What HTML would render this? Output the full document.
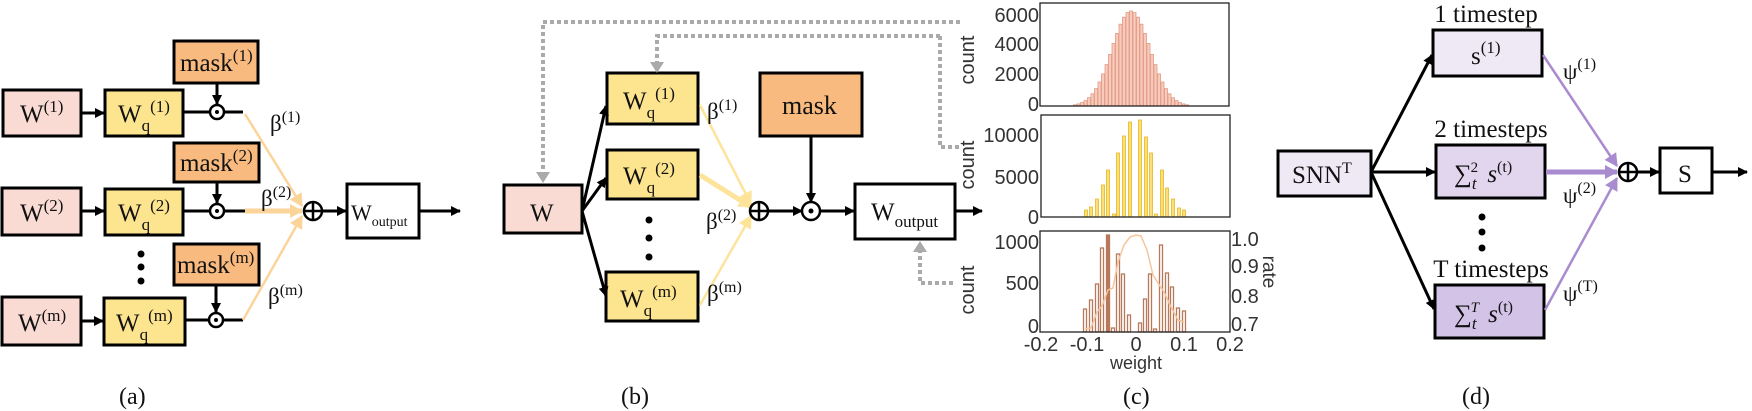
<!DOCTYPE html>
<html><head><meta charset="utf-8"><style>
body{margin:0;background:#fff}
svg{display:block}
.s{font-family:"Liberation Serif",serif;fill:#111}
.a{font-family:"Liberation Sans",sans-serif;fill:#333}
</style></head><body>
<svg width="1752" height="411" viewBox="0 0 1752 411" xmlns="http://www.w3.org/2000/svg">
<defs>
<marker id="k" markerWidth="10" markerHeight="10" refX="9" refY="5" orient="auto" markerUnits="userSpaceOnUse"><path d="M0,0 L10,5 L0,10 z" fill="#000"/></marker>
<marker id="o" markerWidth="14" markerHeight="14" refX="12" refY="7" orient="auto" markerUnits="userSpaceOnUse"><path d="M0,0 L13,7 L0,14 z" fill="#fbd49a"/></marker>
<marker id="y" markerWidth="14" markerHeight="14" refX="12" refY="7" orient="auto" markerUnits="userSpaceOnUse"><path d="M0,0 L13,7 L0,14 z" fill="#fde49a"/></marker>
<marker id="p" markerWidth="14" markerHeight="14" refX="12" refY="7" orient="auto" markerUnits="userSpaceOnUse"><path d="M0,0 L13,7 L0,14 z" fill="#a98bd0"/></marker>
</defs>
<g stroke="#000" stroke-width="3">
<rect x="3" y="90" width="78" height="46" fill="#f9dbd3"/>
<rect x="105" y="90" width="78" height="46" fill="#fde58f"/>
<rect x="174" y="41" width="84" height="42" fill="#f8ba7e"/>
<rect x="2" y="188" width="79" height="47" fill="#f9dbd3"/>
<rect x="105" y="189" width="78" height="46" fill="#fde58f"/>
<rect x="174" y="143" width="85" height="39" fill="#f8ba7e"/>
<rect x="2" y="297" width="79" height="48" fill="#f9dbd3"/>
<rect x="104" y="298" width="81" height="47" fill="#fde58f"/>
<rect x="174" y="244" width="85" height="41" fill="#f8ba7e"/>
<rect x="347" y="184" width="72" height="54" fill="#fff"/>
</g>
<g stroke="#000" stroke-width="3" fill="none">
<line x1="81" y1="113" x2="104" y2="113" marker-end="url(#k)"/>
<line x1="81" y1="211" x2="104" y2="211" marker-end="url(#k)"/>
<line x1="81" y1="321" x2="103" y2="321" marker-end="url(#k)"/>
<line x1="183" y1="112" x2="243" y2="112"/>
<line x1="183" y1="211" x2="245" y2="211"/>
<line x1="185" y1="320" x2="243" y2="320"/>
<line x1="217" y1="83" x2="217" y2="104" marker-end="url(#k)"/>
<line x1="217" y1="182" x2="217" y2="203" marker-end="url(#k)"/>
<line x1="216" y1="285" x2="216" y2="312" marker-end="url(#k)"/>
<line x1="322" y1="211" x2="346" y2="211" marker-end="url(#k)"/>
<line x1="419" y1="211" x2="460" y2="211" marker-end="url(#k)"/>
</g>
<g stroke="#000" stroke-width="2.5" fill="#fff">
<circle cx="217" cy="112" r="7"/><circle cx="217" cy="211" r="7"/><circle cx="216" cy="320" r="7"/>
</g>
<g fill="#000"><circle cx="217" cy="112" r="2"/><circle cx="217" cy="211" r="2"/><circle cx="216" cy="320" r="2"/>
<circle cx="141" cy="254" r="3.5"/><circle cx="141" cy="267" r="3.5"/><circle cx="141" cy="281" r="3.5"/></g>
<g stroke="#fbd49a" fill="none">
<line x1="245" y1="114" x2="302" y2="206" stroke-width="2.5" marker-end="url(#o)"/>
<line x1="245" y1="211" x2="302" y2="211" stroke-width="5" marker-end="url(#o)"/>
<line x1="243" y1="320" x2="302" y2="216" stroke-width="2.5" marker-end="url(#o)"/>
</g>
<g stroke="#000" stroke-width="2.5" fill="#fff"><circle cx="313" cy="211" r="9"/></g>
<path d="M304,211 H322 M313,202 V220" stroke="#000" stroke-width="2.5"/>
<g class="s" font-size="25">
<text x="20" y="122">W<tspan font-size="17" dy="-10">(1)</tspan></text>
<text x="118" y="122">W<tspan font-size="17" dy="9">q</tspan><tspan font-size="17" dy="-19">(1)</tspan></text>
<text x="180" y="71">mask<tspan font-size="17" dy="-10">(1)</tspan></text>
<text x="20" y="221">W<tspan font-size="17" dy="-10">(2)</tspan></text>
<text x="118" y="221">W<tspan font-size="17" dy="9">q</tspan><tspan font-size="17" dy="-19">(2)</tspan></text>
<text x="180" y="171">mask<tspan font-size="17" dy="-10">(2)</tspan></text>
<text x="18" y="331">W<tspan font-size="17" dy="-10">(m)</tspan></text>
<text x="116" y="331">W<tspan font-size="17" dy="9">q</tspan><tspan font-size="17" dy="-19">(m)</tspan></text>
<text x="177" y="273">mask<tspan font-size="17" dy="-10">(m)</tspan></text>
<text x="270" y="131" font-size="23">β<tspan font-size="16" dy="-9">(1)</tspan></text>
<text x="261" y="206" font-size="23">β<tspan font-size="16" dy="-9">(2)</tspan></text>
<text x="268" y="304" font-size="23">β<tspan font-size="16" dy="-9">(m)</tspan></text>
<text x="351" y="220" font-size="22">W<tspan font-size="14" dy="6">output</tspan></text>
<text x="119" y="404" font-size="24">(a)</text>
</g>
<g stroke="#000" stroke-width="3">
<rect x="504" y="185" width="78" height="48" fill="#f9dbd3"/>
<rect x="607" y="73" width="91" height="51" fill="#fde58f"/>
<rect x="607" y="150" width="91" height="49" fill="#fde58f"/>
<rect x="606" y="272" width="92" height="49" fill="#fde58f"/>
<rect x="760" y="73" width="102" height="63" fill="#f8ba7e"/>
<rect x="855" y="184" width="100" height="55" fill="#fff"/>
</g>
<g stroke="#000" stroke-width="3" fill="none">
<line x1="582" y1="211" x2="606" y2="106" marker-end="url(#k)"/>
<line x1="582" y1="211" x2="606" y2="178" marker-end="url(#k)"/>
<line x1="582" y1="211" x2="606" y2="296" marker-end="url(#k)"/>
<line x1="768" y1="211" x2="802" y2="211" marker-end="url(#k)"/>
<line x1="811" y1="136" x2="811" y2="202" marker-end="url(#k)"/>
<line x1="819" y1="211" x2="854" y2="211" marker-end="url(#k)"/>
<line x1="955" y1="211" x2="982" y2="211" marker-end="url(#k)"/>
</g>
<g stroke="#fde49a" fill="none">
<line x1="700" y1="105" x2="751" y2="204" stroke-width="2.5" marker-end="url(#y)"/>
<line x1="700" y1="175" x2="751" y2="207" stroke-width="5" marker-end="url(#y)"/>
<line x1="700" y1="305" x2="751" y2="216" stroke-width="2.5" marker-end="url(#y)"/>
</g>
<g stroke="#000" stroke-width="2.5" fill="#fff"><circle cx="759" cy="211" r="9"/><circle cx="811" cy="211" r="9"/></g>
<path d="M750,211 H768 M759,202 V220" stroke="#000" stroke-width="2.5"/>
<circle cx="811" cy="211" r="2.5" fill="#000"/>
<g fill="#000"><circle cx="649" cy="220" r="3.5"/><circle cx="649" cy="238" r="3.5"/><circle cx="649" cy="257" r="3.5"/></g>
<g stroke="#aaa" stroke-width="4" stroke-dasharray="4,3" fill="none">
<path d="M960,22 H543 V172"/>
<path d="M940,36 H657 V62"/>
<path d="M940,36 V147 H960"/>
<path d="M953,283 H920 V252"/>
</g>
<g fill="#aaa"><path d="M536,172 L550,172 L543,183 z"/><path d="M650,62 L664,62 L657,73 z"/><path d="M913,252 L927,252 L920,241 z"/></g>
<g class="s" font-size="25">
<text x="530" y="221">W</text>
<text x="623" y="109">W<tspan font-size="17" dy="9">q</tspan><tspan font-size="17" dy="-19">(1)</tspan></text>
<text x="623" y="184">W<tspan font-size="17" dy="9">q</tspan><tspan font-size="17" dy="-19">(2)</tspan></text>
<text x="620" y="307">W<tspan font-size="17" dy="9">q</tspan><tspan font-size="17" dy="-19">(m)</tspan></text>
<text x="782" y="114" font-size="26">mask</text>
<text x="871" y="220">W<tspan font-size="17" dy="7">output</tspan></text>
<text x="707" y="119" font-size="23">β<tspan font-size="16" dy="-9">(1)</tspan></text>
<text x="706" y="229" font-size="23">β<tspan font-size="16" dy="-9">(2)</tspan></text>
<text x="707" y="301" font-size="23">β<tspan font-size="16" dy="-9">(m)</tspan></text>
<text x="621" y="404" font-size="24">(b)</text>
</g>
<g fill="#f9cbbd" stroke="#e29a85" stroke-width="0.8">
<rect x="1129.5" y="11" width="3" height="95"/>
<rect x="1126" y="12.6" width="3" height="93.4"/><rect x="1133" y="12.6" width="3" height="93.4"/>
<rect x="1122.5" y="17.2" width="3" height="88.8"/><rect x="1136.5" y="17.2" width="3" height="88.8"/>
<rect x="1119" y="24.2" width="3" height="81.8"/><rect x="1140" y="24.2" width="3" height="81.8"/>
<rect x="1115.5" y="33.4" width="3" height="72.6"/><rect x="1143.5" y="33.4" width="3" height="72.6"/>
<rect x="1112" y="43.5" width="3" height="62.5"/><rect x="1147" y="43.5" width="3" height="62.5"/>
<rect x="1108.5" y="54.4" width="3" height="51.6"/><rect x="1150.5" y="54.4" width="3" height="51.6"/>
<rect x="1105" y="64.6" width="3" height="41.4"/><rect x="1154" y="64.6" width="3" height="41.4"/>
<rect x="1101.5" y="73.9" width="3" height="32.1"/><rect x="1157.5" y="73.9" width="3" height="32.1"/>
<rect x="1098" y="82" width="3" height="24"/><rect x="1161" y="82" width="3" height="24"/>
<rect x="1094.5" y="88.6" width="3" height="17.4"/><rect x="1164.5" y="88.6" width="3" height="17.4"/>
<rect x="1091" y="93.8" width="3" height="12.2"/><rect x="1168" y="93.8" width="3" height="12.2"/>
<rect x="1087.5" y="97.7" width="3" height="8.3"/><rect x="1171.5" y="97.7" width="3" height="8.3"/>
<rect x="1084" y="100.6" width="3" height="5.4"/><rect x="1175" y="100.6" width="3" height="5.4"/>
<rect x="1080.5" y="102.6" width="3" height="3.4"/><rect x="1178.5" y="102.6" width="3" height="3.4"/>
<rect x="1077" y="103.9" width="3" height="2.1"/><rect x="1182" y="103.9" width="3" height="2.1"/>
<rect x="1073.5" y="104.8" width="3" height="1.2"/><rect x="1185.5" y="104.8" width="3" height="1.2"/>
</g>
<g fill="#fbe07a" stroke="#e8b820" stroke-width="0.8">
<rect x="1084.5" y="210" width="3" height="7"/><rect x="1089.5" y="207" width="3" height="10"/>
<rect x="1095.5" y="199" width="3" height="18"/><rect x="1101.5" y="185" width="3" height="32"/>
<rect x="1106.5" y="170" width="3" height="47"/><rect x="1112.5" y="214" width="3" height="3"/>
<rect x="1116.5" y="153" width="3" height="64"/><rect x="1122.5" y="136" width="3" height="81"/>
<rect x="1128.5" y="122" width="3" height="95"/><rect x="1138.5" y="120" width="3" height="97"/>
<rect x="1144.5" y="137" width="3" height="80"/><rect x="1149.5" y="153" width="3" height="64"/>
<rect x="1154.5" y="214" width="3" height="3"/><rect x="1160.5" y="170" width="3" height="47"/>
<rect x="1165.5" y="188" width="3" height="29"/><rect x="1171.5" y="199" width="3" height="18"/>
<rect x="1177.5" y="208" width="3" height="9"/><rect x="1182.5" y="210" width="3" height="7"/>
</g>
<g fill="#fff" stroke="#b7795a" stroke-width="1.3">
<rect x="1083.5" y="309" width="3" height="23"/><rect x="1089.5" y="300" width="3" height="32"/>
<rect x="1095.5" y="284" width="3" height="48"/><rect x="1100.5" y="248" width="3" height="84"/>
<rect x="1106.5" y="235" width="3" height="97" fill="#b7795a"/><rect x="1111.5" y="328" width="3" height="4"/>
<rect x="1116.5" y="254" width="3" height="78"/><rect x="1121.5" y="274" width="3" height="58"/>
<rect x="1127.5" y="315" width="3" height="17"/><rect x="1138.5" y="323" width="3" height="9"/>
<rect x="1143.5" y="299" width="3" height="33"/><rect x="1148.5" y="274" width="3" height="58"/>
<rect x="1153.5" y="329" width="3" height="3"/><rect x="1159.5" y="245" width="3" height="87"/>
<rect x="1165.5" y="273" width="3" height="59"/><rect x="1170.5" y="287" width="3" height="45"/>
<rect x="1176.5" y="308" width="3" height="24"/><rect x="1182.5" y="311" width="3" height="21"/>
</g>
<polyline points="1085,329 1091,328 1097,312 1102,306 1108,290 1113,288 1118,262 1124,245 1130,237 1136,235 1141,236 1147,250 1153,275 1158,283 1164,292 1170,305 1178,320 1184,322" fill="none" stroke="#f6c59c" stroke-width="1.5"/>
<g fill="none" stroke="#222" stroke-width="1.3">
<rect x="1040" y="3" width="189" height="103"/>
<rect x="1041" y="115" width="189" height="102"/>
<rect x="1040" y="231" width="190" height="101"/>
</g>
<g class="a" font-size="20" text-anchor="end">
<text x="1039" y="22">6000</text><text x="1039" y="51">4000</text><text x="1039" y="81">2000</text><text x="1039" y="111">0</text>
<text x="1039" y="142">10000</text><text x="1039" y="184">5000</text><text x="1039" y="224">0</text>
<text x="1039" y="249">1000</text><text x="1039" y="290">500</text><text x="1039" y="333">0</text>
</g>
<g class="a" font-size="20" text-anchor="start">
<text x="1231" y="246">1.0</text><text x="1231" y="273">0.9</text><text x="1231" y="303">0.8</text><text x="1231" y="331">0.7</text>
</g>
<g class="a" font-size="20" text-anchor="middle">
<text x="1041" y="351">-0.2</text><text x="1087" y="351">-0.1</text><text x="1136" y="351">0</text><text x="1184" y="351">0.1</text><text x="1230" y="351">0.2</text>
<text x="1136" y="369" font-size="18">weight</text>
<text transform="translate(974,60) rotate(-90)">count</text>
<text transform="translate(974,165) rotate(-90)">count</text>
<text transform="translate(974,290) rotate(-90)">count</text>
<text transform="translate(1263,272) rotate(90)" font-size="19">rate</text>
</g>
<text class="s" x="1123" y="404" font-size="24">(c)</text>
<g stroke="#000" stroke-width="3">
<rect x="1278" y="151" width="93" height="45" fill="#efe9f6"/>
<rect x="1433" y="30" width="109" height="46" fill="#efe9f6"/>
<rect x="1436" y="145" width="109" height="53" fill="#e1d6ee"/>
<rect x="1435" y="285" width="109" height="53" fill="#d3c3e7"/>
<rect x="1660" y="148" width="52" height="45" fill="#fff"/>
</g>
<g stroke="#000" stroke-width="3" fill="none">
<line x1="1371" y1="172" x2="1432" y2="55" marker-end="url(#k)"/>
<line x1="1371" y1="172" x2="1435" y2="172" marker-end="url(#k)"/>
<line x1="1371" y1="172" x2="1434" y2="309" marker-end="url(#k)"/>
<line x1="1637" y1="172" x2="1659" y2="172" marker-end="url(#k)"/>
<line x1="1712" y1="172" x2="1747" y2="172" marker-end="url(#k)"/>
</g>
<g stroke="#a98bd0" fill="none">
<line x1="1543" y1="55" x2="1617" y2="166" stroke-width="2.5" marker-end="url(#p)"/>
<line x1="1546" y1="172" x2="1617" y2="172" stroke-width="5" marker-end="url(#p)"/>
<line x1="1545" y1="310" x2="1617" y2="178" stroke-width="2.5" marker-end="url(#p)"/>
</g>
<g stroke="#000" stroke-width="2.5" fill="#fff"><circle cx="1628" cy="172" r="9"/></g>
<path d="M1619,172 H1637 M1628,163 V181" stroke="#000" stroke-width="2.5"/>
<g fill="#000"><circle cx="1482" cy="217" r="3.5"/><circle cx="1482" cy="232" r="3.5"/><circle cx="1482" cy="248" r="3.5"/></g>
<g class="s" font-size="25">
<text x="1486" y="22" text-anchor="middle">1 timestep</text>
<text x="1491" y="137" text-anchor="middle">2 timesteps</text>
<text x="1491" y="277" text-anchor="middle">T timesteps</text>
<text x="1292" y="183">SNN<tspan font-size="16" dy="-10">T</tspan></text>
<text x="1471" y="64">s<tspan font-size="17" dy="-11">(1)</tspan></text>
<text x="1454" y="182">∑<tspan font-style="italic" font-size="17" dy="7">t</tspan><tspan font-size="15" dx="-6" dy="-17">2</tspan><tspan font-style="italic" dx="3" dy="10"> s</tspan><tspan font-size="16" dy="-10">(t)</tspan></text>
<text x="1454" y="322">∑<tspan font-style="italic" font-size="17" dy="7">t</tspan><tspan font-style="italic" font-size="15" dx="-6" dy="-17">T</tspan><tspan font-style="italic" dx="3" dy="10"> s</tspan><tspan font-size="16" dy="-10">(t)</tspan></text>
<text x="1678" y="182">S</text>
<text x="1563" y="79" font-size="23">ψ<tspan font-size="16" dy="-10">(1)</tspan></text>
<text x="1563" y="203" font-size="23">ψ<tspan font-size="16" dy="-10">(2)</tspan></text>
<text x="1563" y="301" font-size="23">ψ<tspan font-size="16" dy="-10">(T)</tspan></text>
<text x="1462" y="404" font-size="24">(d)</text>
</g>
</svg>
</body></html>
